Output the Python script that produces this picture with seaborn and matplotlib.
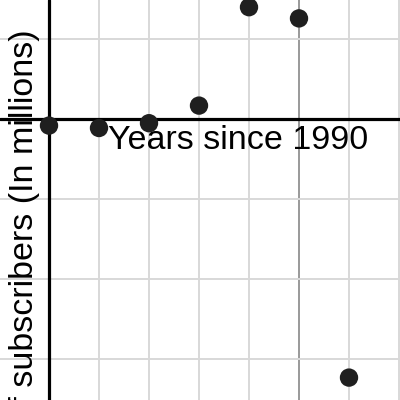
import seaborn as sns
import matplotlib.pyplot as plt
import pandas as pd

# years since 1990 and subscribers
years = [0, 1, 2, 3, 4, 5, 6]
subscribers = [-0.08, -0.11, -0.05, 0.17, 1.40, 1.26, -3.23]

df = pd.DataFrame({'year': years, 'subs': subscribers})

sns.set_style('white')
plt.rcParams['font.family'] = ['Liberation Sans', 'DejaVu Sans']

fig = plt.figure(figsize=(4, 4), dpi=100)
ax = fig.add_axes([0, 0, 1, 1])

# grid like a graphing calculator
for gx in range(-1, 8):
    ax.axvline(gx, color='#999999' if gx == 5 else '#d8d8d8', lw=1.4, zorder=0)
for gy in range(-4, 2):
    ax.axhline(gy, color='#d8d8d8', lw=1.4, zorder=0)

ax.axhline(0, color='black', lw=2.3, zorder=1)
ax.axvline(0, color='black', lw=2.3, zorder=1)

sns.scatterplot(data=df, x='year', y='subs', ax=ax, s=175, color='#1f1f1f',
                edgecolor='none', zorder=3, clip_on=False)

ax.set_xlim(-0.98, 7.02)
ax.set_ylim(-3.51, 1.49)
ax.set_xticks([])
ax.set_yticks([])
ax.set_xlabel('')
ax.set_ylabel('')
for sp in ax.spines.values():
    sp.set_visible(False)

ax.text(1.18, -0.37, 'Years since 1990', fontsize=24.5, ha='left', va='baseline',
        color='black', zorder=4)
# label runs off the bottom edge, as in the original screenshot
fig.text(24.5 / 400, 1 - 29 / 400, 'Number of subscribers (In millions)', fontsize=24.5,
         rotation=90, ha='center', va='top', color='black')

fig.savefig('out.png', dpi=100)
